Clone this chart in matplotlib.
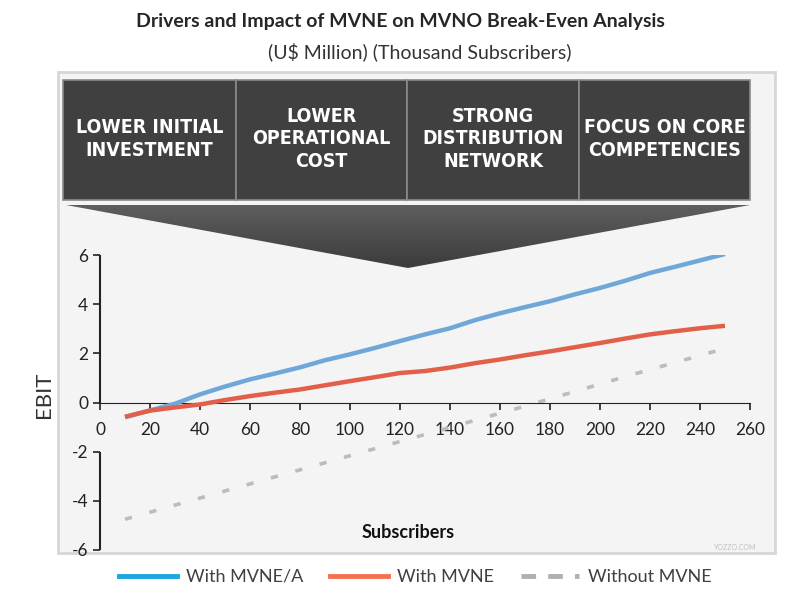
import numpy as np
import matplotlib
matplotlib.use("Agg")
import matplotlib.pyplot as plt
from matplotlib.patches import Rectangle, Polygon
from matplotlib.lines import Line2D

plt.rcParams['font.family'] = ['Lato', 'DejaVu Sans']
plt.rcParams['axes.unicode_minus'] = False

# data (EBIT in US$ million vs thousand subscribers)
subs = [10, 20, 30, 40, 50, 60, 70, 80, 90, 100, 110, 120, 130,
        140, 150, 160, 170, 180, 190, 200, 210, 220, 230, 240, 250]
with_mvne_a = [-0.6, -0.32, -0.05, 0.33, 0.65, 0.94, 1.18, 1.43, 1.72, 1.96, 2.22, 2.5, 2.77,
               3.02, 3.35, 3.63, 3.88, 4.12, 4.4, 4.66, 4.95, 5.27, 5.52, 5.78, 6.04]
with_mvne = [-0.58, -0.33, -0.2, -0.08, 0.1, 0.26, 0.4, 0.53, 0.7, 0.87, 1.03, 1.2, 1.28,
             1.42, 1.6, 1.75, 1.92, 2.08, 2.25, 2.42, 2.6, 2.77, 2.9, 3.02, 3.12]
subs_no = [10, 50, 90, 130, 170, 210, 250]
without_mvne = [-4.75, -3.6, -2.45, -1.3, -0.15, 1.05, 2.2]

drivers = ['LOWER INITIAL\nINVESTMENT', 'LOWER\nOPERATIONAL\nCOST',
           'STRONG\nDISTRIBUTION\nNETWORK', 'FOCUS ON CORE\nCOMPETENCIES']
xticks = list(range(0, 261, 20))
yticks = [-6, -4, -2, 0, 2, 4, 6]

W, H = 800, 600
fig = plt.figure(figsize=(8, 6), dpi=100)

def px(x, y):
    return x / W, 1 - y / H

# light grey panel behind everything
x0, y0 = px(58, 553)
fig.patches.append(Rectangle((x0, y0), (775 - 58) / W, (553 - 72) / H,
                             transform=fig.transFigure, facecolor='#f4f4f4',
                             edgecolor='#d6d6d6', lw=2, zorder=-2))

# header boxes
edges = [63, 236, 407, 579, 750]
for i, txt in enumerate(drivers):
    bx, by = px(edges[i], 200)
    fig.patches.append(Rectangle((bx, by), (edges[i + 1] - edges[i]) / W, 120 / H,
                                 transform=fig.transFigure, facecolor='#404040',
                                 edgecolor='#8a8a8a', lw=1.2, zorder=1))
    cx, cy = px((edges[i] + edges[i + 1]) / 2, 139)
    fig.text(cx, cy, txt, color='white', ha='center', va='center', fontsize=14,
             family='DejaVu Sans', fontstretch='condensed', fontweight='bold',
             linespacing=1.25, zorder=2)

# funnel triangle under the boxes, dark at the top and lighter at the tip
tax = fig.add_axes([66 / W, 1 - 268 / H, (750 - 66) / W, 63 / H], zorder=1)
tax.set_axis_off()
grad = np.linspace(0, 1, 64).reshape(-1, 1)
img = tax.imshow(grad, cmap=matplotlib.colors.LinearSegmentedColormap.from_list(
    'g', ['#3c3c3c', '#5e5e5e']), aspect='auto', extent=(0, 1, 1, 0))
tri = Polygon([(0, 1), (1, 1), (0.5, 0)], closed=True, transform=tax.transData)
tax.set_xlim(0, 1)
tax.set_ylim(0, 1)
img.set_clip_path(tri)

fig.text(0.5, 1 - 22 / H, 'Drivers and Impact of MVNE on MVNO Break-Even Analysis',
         ha='center', va='center', fontsize=14, fontweight='bold', color='#262626')
fig.text(0.525, 1 - 52 / H, '(U$ Million) (Thousand Subscribers)',
         ha='center', va='center', fontsize=14, color='#333333')

ax = fig.add_axes([100 / W, 1 - 550 / H, 650 / W, 295 / H], zorder=0)
ax.set_facecolor('none')
ax.plot(subs, with_mvne_a, color='#6fa7d9', lw=3.2, solid_capstyle='butt', zorder=3)
ax.plot(subs, with_mvne, color='#e2604a', lw=3.2, solid_capstyle='butt', zorder=3)
ax.plot(subs_no, without_mvne, color='#bcbcbc', lw=2.6, dashes=(2, 5), zorder=2)

ax.set_xlim(0, 260)
ax.set_ylim(-6, 6)
ax.set_xticks(xticks)
ax.set_yticks(yticks)
ax.spines['bottom'].set_position(('data', 0))
for s in ['top', 'right', 'left']:
    ax.spines[s].set_visible(False)
ax.spines['bottom'].set_color('#222222')
# broken y axis line (gap where the x tick labels sit)
ax.vlines(0, 0, 6, color='#222222', lw=1.5, clip_on=False)
ax.vlines(0, -6, -2, color='#222222', lw=1.5, clip_on=False)
ax.tick_params(axis='both', labelsize=12.5, colors='#222222', width=1.2, length=5)
ax.tick_params(axis='x', direction='out', pad=9)

ax.set_ylabel('EBIT', fontsize=16, color='#333333')
ax.yaxis.set_label_coords(-0.07, 0.525)
ax.text(0.474, 0.058, 'Subscribers', transform=ax.transAxes, ha='center', va='center',
        fontsize=13, fontweight='bold', color='#111111')

fig.text(735 / W, 1 - 547 / H, 'YOZZO.COM', fontsize=5, color='#c0c0c0',
         ha='center', va='center')

handles = [Line2D([], [], color='#1ba6e0', lw=3.5),
           Line2D([], [], color='#f4714e', lw=3.5),
           Line2D([], [], color='#b0b0b0', lw=3.5, dashes=(3, 2.5))]
fig.legend(handles, ['With MVNE/A', 'With MVNE', 'Without MVNE'], loc='center',
           bbox_to_anchor=(0.519, 1 - 577 / H), ncol=3, frameon=False, fontsize=13,
           handlelength=3.2, handletextpad=0.5, columnspacing=1.5, labelcolor='#404040')

fig.savefig('out.png', dpi=100)
